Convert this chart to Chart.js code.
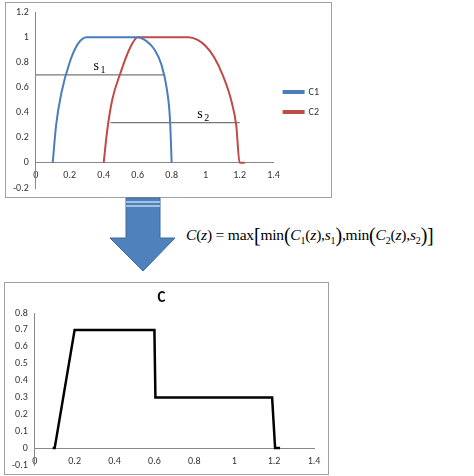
<!DOCTYPE html>
<html>
<head>
<meta charset="utf-8">
<script src="https://cdn.jsdelivr.net/npm/chart.js@4"></script>
<style>
  body { margin:0; width:474px; height:476px; background:#fff; position:relative; font-family:Calibri, "Liberation Sans", Arial, sans-serif; overflow:hidden; }
  .box { position:absolute; border:1px solid #a0a0a0; background:#fff; }
  #topBox { left:5px; top:2px; width:325px; height:194px; }
  #botBox { left:4px; top:282px; width:323px; height:191px; }
  #formula { position:absolute; left:186px; top:224px; font-family:"Liberation Serif","DejaVu Serif",serif; font-size:15.5px; white-space:nowrap; letter-spacing:-0.2px; }
  #formula i { font-style:italic; }
  #formula sub { font-size:10px; }
  #formula .b { font-size:20px; vertical-align:-2px; }
</style>
</head>
<body>
<div class="box" id="topBox"><canvas id="topChart" width="325" height="194"></canvas></div>
<div class="box" id="botBox"><canvas id="botChart" width="323" height="191"></canvas></div>
<svg style="position:absolute;left:108px;top:196px" width="70" height="78">
  <polygon points="18,2 52,2 52,42 67,42 35,75 2,42 18,42" fill="#4f81bd" stroke="#3a6aa0" stroke-width="1"/>
  <line x1="18" y1="6" x2="52" y2="6" stroke="#fff" stroke-width="1"/>
  <line x1="18" y1="10" x2="52" y2="10" stroke="#fff" stroke-width="1"/>
</svg>
<div id="formula"><i>C</i>(<i>z</i>) = max<span class="b">[</span>min<span class="b">(</span><i>C</i><sub>1</sub>(<i>z</i>),<i>s</i><sub>1</sub><span class="b">)</span>,min<span class="b">(</span><i>C</i><sub>2</sub>(<i>z</i>),<i>s</i><sub>2</sub><span class="b">)</span><span class="b">]</span></div>
<script>
'use strict';

// top chart: membership curves
const c1X = [0.1, 0.12, 0.15, 0.2, 0.25, 0.3, 0.6, 0.65, 0.7, 0.74, 0.77, 0.79, 0.8];
const c1Y = [0, 0.3, 0.55, 0.8, 0.95, 1, 1, 0.97, 0.9, 0.78, 0.6, 0.35, 0];
const c2X = [0.4, 0.42, 0.45, 0.5, 0.55, 0.6, 0.9, 0.95, 1.0, 1.05, 1.1, 1.15, 1.18, 1.2, 1.23];
const c2Y = [0, 0.25, 0.5, 0.72, 0.9, 1, 1, 0.98, 0.93, 0.84, 0.7, 0.5, 0.3, 0, 0];
const s1X = [0, 0.76];
const s1Y = [0.7, 0.7];
const s2X = [0.44, 1.2];
const s2Y = [0.32, 0.32];
// bottom chart: aggregated result
const cX = [0.09, 0.1, 0.2, 0.6, 0.605, 1.19, 1.205, 1.23];
const cY = [0, 0, 0.7, 0.7, 0.3, 0.3, 0, 0];

const pts = (xs, ys) => xs.map((x, i) => ({ x, y: ys[i] }));
const tickFont = { family: 'Calibri, "Liberation Sans", Arial', size: 10 };
const lbl = [{ text: 's', sub: '1', x: 0.34, y: 0.74 }, { text: 's', sub: '2', x: 0.95, y: 0.36 }];

const sLabels = {
  id: 'sLabels',
  afterDatasetsDraw(chart) {
    const { ctx, scales } = chart;
    ctx.save();
    ctx.fillStyle = '#000';
    lbl.forEach(l => {
      const px = scales.x.getPixelForValue(l.x), py = scales.y.getPixelForValue(l.y);
      ctx.font = '14px "Liberation Serif", serif';
      ctx.fillText(l.text, px, py);
      ctx.font = '10px "Liberation Serif", serif';
      ctx.fillText(l.sub, px + 7, py + 3);
    });
    ctx.restore();
  },
};

function line(data, color, width, label, smooth) {
  return { label, data, borderColor: color, backgroundColor: color, borderWidth: width, showLine: true, pointRadius: 0,
    cubicInterpolationMode: smooth ? 'monotone' : 'default', tension: 0, fill: false };
}

const axisX = { type: 'linear', min: 0, max: 1.4, position: { y: 0 },
  ticks: { stepSize: 0.2, font: tickFont, color: '#333', callback: v => +v.toFixed(1) },
  grid: { display: false, drawTicks: true, tickLength: 4 }, border: { color: '#888' } };

new Chart(document.getElementById('topChart'), {
  type: 'scatter',
  data: {
    datasets: [
      line(pts(c1X, c1Y), '#4a7ebb', 2, 'C1', true),
      line(pts(c2X, c2Y), '#be4b48', 2, 'C2', true),
      line(pts(s1X, s1Y), '#777', 1.2, 's1'),
      line(pts(s2X, s2Y), '#777', 1.2, 's2'),
    ],
  },
  options: {
    responsive: false, animation: false,
    layout: { padding: { top: 6, left: 4, right: 2, bottom: 2 } },
    plugins: {
      legend: { position: 'right',
        labels: { boxWidth: 20, boxHeight: 2, font: tickFont, color: '#333',
          filter: it => it.text === 'C1' || it.text === 'C2' } },
      tooltip: { enabled: false },
    },
    scales: {
      x: axisX,
      y: { min: -0.2, max: 1.2, ticks: { stepSize: 0.2, font: tickFont, color: '#333', callback: v => +v.toFixed(1) },
        grid: { display: false, tickLength: 4 }, border: { color: '#888' } },
    },
  },
  plugins: [sLabels],
});

new Chart(document.getElementById('botChart'), {
  type: 'scatter',
  data: { datasets: [line(pts(cX, cY), '#000', 2.5, 'C')] },
  options: {
    responsive: false, animation: false,
    layout: { padding: { top: 2, left: 4, right: 14, bottom: 2 } },
    plugins: {
      legend: { display: false },
      title: { display: true, text: 'C', font: { family: 'Calibri, "Liberation Sans", Arial', size: 15, weight: 'bold' }, color: '#000', padding: { top: 4, bottom: 6 } },
      tooltip: { enabled: false },
    },
    scales: {
      x: axisX,
      y: { min: -0.1, max: 0.8, ticks: { stepSize: 0.1, font: tickFont, color: '#333', callback: v => +v.toFixed(1) },
        grid: { display: false, tickLength: 4 }, border: { color: '#888' } },
    },
  },
});
</script>
</body>
</html>
